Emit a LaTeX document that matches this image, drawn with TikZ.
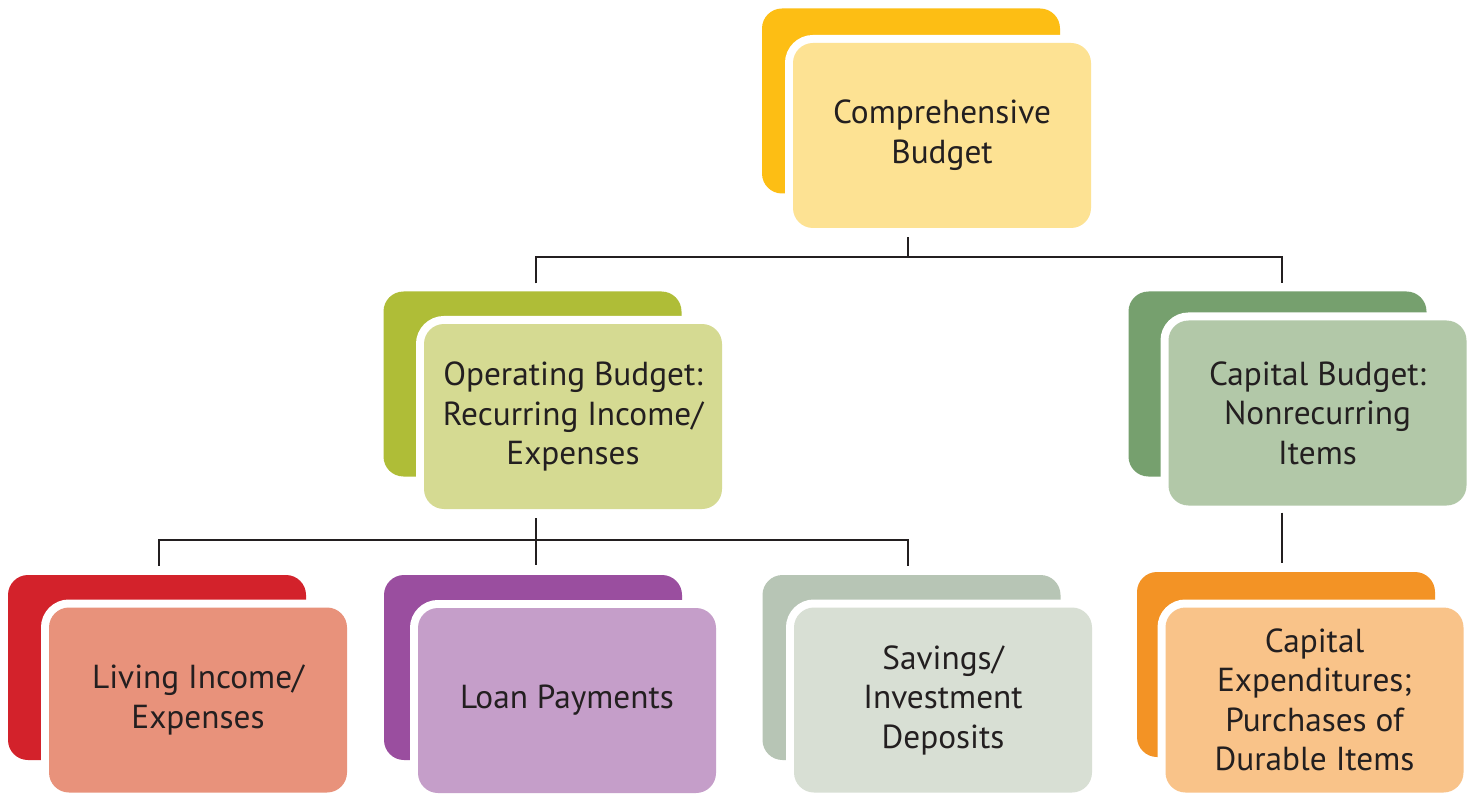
\documentclass[tikz,border=0pt]{standalone}
\usepackage{fontspec}
\setmainfont{PT Sans}
\definecolor{txt}{HTML}{231F20}
\definecolor{yb}{HTML}{FDBE14}\definecolor{yf}{HTML}{FDE293}
\definecolor{ob}{HTML}{AFBD37}\definecolor{of}{HTML}{D5DA92}
\definecolor{gb}{HTML}{76A06E}\definecolor{gf}{HTML}{B2C8A8}
\definecolor{rb}{HTML}{D3222B}\definecolor{rf}{HTML}{E8927B}
\definecolor{pb}{HTML}{9A4E9F}\definecolor{pf}{HTML}{C59EC9}
\definecolor{sb}{HTML}{B7C5B5}\definecolor{sf}{HTML}{D8DFD4}
\definecolor{nb}{HTML}{F39325}\definecolor{nf}{HTML}{F9C389}
\tikzset{
  backbox/.style={rectangle, rounded corners=20pt, minimum width=298pt, minimum height=185pt, inner sep=0pt, draw=none},
  frontbox/.style={rectangle, rounded corners=20pt, minimum width=298pt, minimum height=185pt, inner sep=0pt, draw=none,
     preaction={draw=white, line width=16pt}, text=txt, align=center,
     font=\fontsize{33.3}{39.5}\selectfont},
  conn/.style={draw=txt, line width=2.3pt}
}
\begin{document}
\begin{tikzpicture}[x=1pt,y=-1pt]
\useasboundingbox[fill=white] (0,0) rectangle (1475,802);
% Comprehensive
\node[backbox, fill=yb] (cbk) at (911,101) {};
\node[frontbox, fill=yf] (cf) at (942,135.5) {\raisebox{-2pt}{\begin{tabular}{@{}c@{}}Comprehensive\\Budget\end{tabular}}};
% Operating
\node[backbox, fill=ob] (obk) at (532.5,384) {};
\node[frontbox, fill=of] (of) at (573,416.5) {Operating Budget:\\Recurring Income/\\Expenses};
% Capital budget
\node[backbox, fill=gb] (cpbk) at (1277.5,384) {};
\node[frontbox, fill=gf] (cpf) at (1317.5,413) {Capital Budget:\\Nonrecurring\\Items};
% Living
\node[backbox, fill=rb] (lvbk) at (157,667.5) {};
\node[frontbox, fill=rf] (lvf) at (198,700) {Living Income/\\Expenses};
% Loan
\node[backbox, fill=pb] (lnbk) at (533,667.5) {};
\node[frontbox, fill=pf] (lnf) at (567,700.5) {Loan Payments};
% Savings
\node[backbox, fill=sb] (svbk) at (911.5,667.5) {};
\node[frontbox, fill=sf] (svf) at (943,700) {Savings/\\Investment\\Deposits};
% Capital expenditures
\node[backbox, fill=nb] (cebk) at (1286,664.5) {};
\node[frontbox, fill=nf] (cef) at (1314.5,700) {Capital\\Expenditures;\\Purchases of\\Durable Items};
% connectors
\coordinate (t1) at (908,257);
\coordinate (hL) at (536,257);
\coordinate (hR) at (1282,257);
\coordinate (m) at (536,540);
\coordinate (mL) at (159,540);
\coordinate (mR) at (908,540);
\draw[conn] ([yshift=-9pt]cf.south -| t1) -- (t1);
\draw[conn] ([yshift=8pt]obk.north -| hL) -- (hL) -- (hR) -- ([yshift=8pt]cpbk.north -| hR);
\draw[conn] ([yshift=-9pt]of.south -| m) -- ([yshift=10pt]lnbk.north -| m);
\draw[conn] ([yshift=9pt]lvbk.north -| mL) -- (mL) -- (mR) -- ([yshift=9pt]svbk.north -| mR);
\draw[conn] ([yshift=-7pt]cpf.south -| hR) -- ([yshift=9pt]cebk.north -| hR);
\end{tikzpicture}
\end{document}
